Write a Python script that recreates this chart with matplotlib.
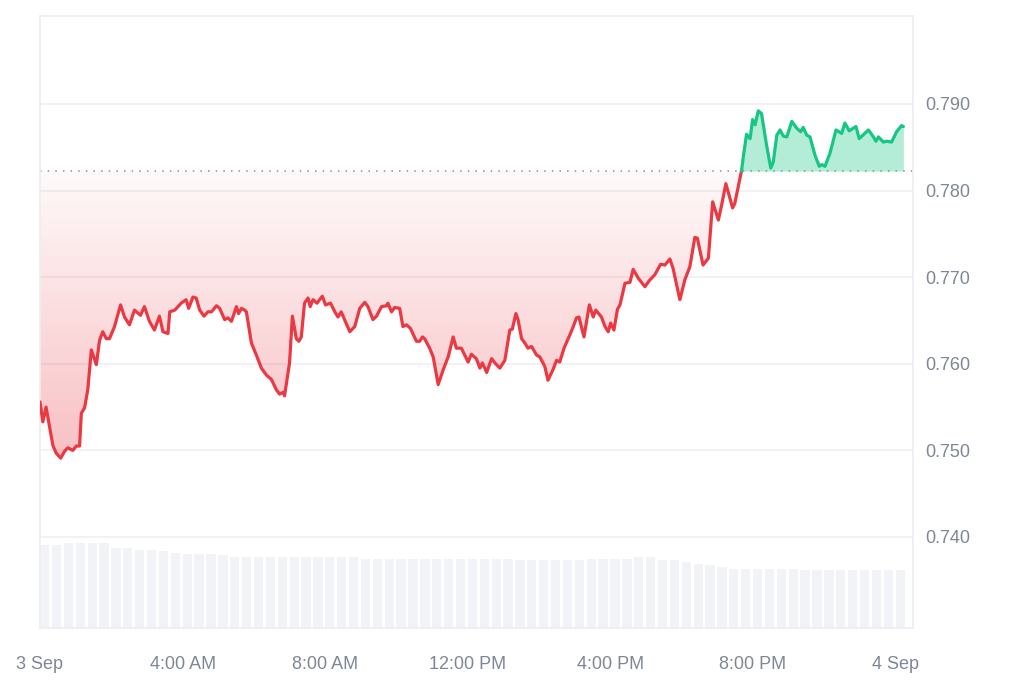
import numpy as np
import matplotlib
matplotlib.use('Agg')
import matplotlib.pyplot as plt
from matplotlib.colors import LinearSegmentedColormap
from matplotlib.path import Path

# price, hours after 3 Sep 00:00
hours = [0.0, 0.08, 0.17, 0.27, 0.36, 0.45, 0.58, 0.69, 0.78, 0.92,
         1.02, 1.11, 1.16, 1.25, 1.34, 1.44, 1.58, 1.67, 1.76, 1.86,
         1.95, 2.09, 2.26, 2.37, 2.51, 2.65, 2.82, 2.93, 3.07, 3.21,
         3.35, 3.45, 3.59, 3.64, 3.78, 3.96, 4.10, 4.17, 4.29, 4.38,
         4.48, 4.60, 4.71, 4.81, 4.95, 5.04, 5.18, 5.27, 5.37, 5.51,
         5.57, 5.65, 5.74, 5.79, 5.93, 6.07, 6.21, 6.35, 6.49, 6.63,
         6.72, 6.82, 6.86, 7.00, 7.08, 7.19, 7.26, 7.33, 7.42, 7.52,
         7.58, 7.66, 7.77, 7.92, 8.01, 8.15, 8.27, 8.36, 8.45, 8.69,
         8.83, 8.97, 9.11, 9.20, 9.34, 9.44, 9.58, 9.72, 9.76, 9.86,
         9.95, 10.09, 10.18, 10.28, 10.39, 10.56, 10.65, 10.73, 10.79, 10.93,
         11.03, 11.17, 11.31, 11.45, 11.59, 11.68, 11.82, 12.01, 12.10, 12.24,
         12.34, 12.41, 12.53, 12.67, 12.76, 12.90, 13.04, 13.18, 13.25, 13.35,
         13.41, 13.51, 13.60, 13.69, 13.79, 13.93, 14.02, 14.16, 14.25, 14.39,
         14.49, 14.58, 14.70, 14.86, 14.96, 15.05, 15.12, 15.26, 15.41, 15.52,
         15.59, 15.75, 15.85, 15.94, 16.01, 16.10, 16.20, 16.27, 16.41, 16.55,
         16.64, 16.78, 16.97, 17.09, 17.25, 17.41, 17.53, 17.67, 17.76, 17.95,
         18.09, 18.23, 18.37, 18.44, 18.60, 18.75, 18.87, 19.03, 19.12, 19.24,
         19.43, 19.49, 19.68, 19.73, 19.82, 19.92, 19.99, 20.06, 20.15, 20.24,
         20.38, 20.50, 20.57, 20.67, 20.76, 20.85, 20.95, 21.09, 21.23, 21.34,
         21.41, 21.51, 21.60, 21.74, 21.86, 21.93, 22.02, 22.16, 22.33, 22.49,
         22.58, 22.70, 22.89, 22.98, 23.24, 23.38, 23.45, 23.52, 23.66, 23.75,
         23.89, 24.03, 24.17, 24.22]

price = [0.7556, 0.7533, 0.7550, 0.7527, 0.7506, 0.7497, 0.7491, 0.7499, 0.7503, 0.7500,
         0.7505, 0.7505, 0.7543, 0.7549, 0.7570, 0.7616, 0.7599, 0.7627, 0.7637, 0.7629,
         0.7629, 0.7643, 0.7668, 0.7654, 0.7645, 0.7662, 0.7656, 0.7666, 0.7649, 0.7639,
         0.7655, 0.7637, 0.7635, 0.7660, 0.7662, 0.7670, 0.7674, 0.7664, 0.7677, 0.7676,
         0.7662, 0.7655, 0.7660, 0.7660, 0.7667, 0.7664, 0.7651, 0.7653, 0.7649, 0.7666,
         0.7658, 0.7664, 0.7662, 0.7660, 0.7624, 0.7610, 0.7595, 0.7587, 0.7582, 0.7570,
         0.7565, 0.7567, 0.7563, 0.7601, 0.7655, 0.7629, 0.7626, 0.7631, 0.7670, 0.7676,
         0.7666, 0.7674, 0.7670, 0.7678, 0.7668, 0.7670, 0.7660, 0.7654, 0.7660, 0.7637,
         0.7643, 0.7664, 0.7671, 0.7666, 0.7651, 0.7655, 0.7666, 0.7667, 0.7670, 0.7660,
         0.7665, 0.7664, 0.7643, 0.7645, 0.7641, 0.7626, 0.7626, 0.7631, 0.7629, 0.7618,
         0.7608, 0.7576, 0.7593, 0.7608, 0.7631, 0.7618, 0.7618, 0.7602, 0.7611, 0.7606,
         0.7595, 0.7601, 0.7590, 0.7606, 0.7601, 0.7595, 0.7604, 0.7639, 0.7640, 0.7658,
         0.7651, 0.7629, 0.7624, 0.7618, 0.7620, 0.7610, 0.7608, 0.7597, 0.7581, 0.7593,
         0.7604, 0.7602, 0.7618, 0.7633, 0.7643, 0.7653, 0.7654, 0.7631, 0.7668, 0.7654,
         0.7662, 0.7654, 0.7643, 0.7637, 0.7647, 0.7639, 0.7663, 0.7668, 0.7693, 0.7694,
         0.7709, 0.7699, 0.7689, 0.7696, 0.7703, 0.7715, 0.7714, 0.7721, 0.7710, 0.7674,
         0.7697, 0.7712, 0.7746, 0.7745, 0.7714, 0.7722, 0.7787, 0.7766, 0.7783, 0.7808,
         0.7780, 0.7785, 0.7823, 0.7839, 0.7865, 0.7860, 0.7882, 0.7876, 0.7892, 0.7889,
         0.7853, 0.7826, 0.7833, 0.7864, 0.7870, 0.7863, 0.7862, 0.7880, 0.7872, 0.7868,
         0.7873, 0.7864, 0.7862, 0.7841, 0.7828, 0.7830, 0.7828, 0.7843, 0.7870, 0.7866,
         0.7878, 0.7869, 0.7874, 0.7860, 0.7870, 0.7862, 0.7857, 0.7862, 0.7856, 0.7857,
         0.7856, 0.7868, 0.7875, 0.7874]

# opening price (dotted reference line)
base = 0.78225

# volume bars, one per 20 minutes (millions)
vol_hours = [i / 3 for i in range(73)]
volume = [418, 418, 427, 427, 427, 427, 402, 402, 392, 392,
          385, 375, 372, 372, 370, 368, 357, 357, 357, 357,
          357, 357, 357, 357, 357, 357, 357, 348, 348, 348,
          348, 348, 348, 348, 348, 348, 348, 348, 348, 348,
          340, 340, 340, 340, 340, 340, 348, 348, 348, 348,
          357, 357, 340, 340, 330, 322, 315, 305, 298, 298,
          298, 298, 298, 298, 290, 290, 290, 290, 290, 290,
          290, 290, 290]

x_ticks = [0, 4, 8, 12, 16, 20, 24]
x_labels = ['3 Sep', '4:00 AM', '8:00 AM', '12:00 PM', '4:00 PM', '8:00 PM', '4 Sep']
y_ticks = [0.740, 0.750, 0.760, 0.770, 0.780, 0.790]

RED = '#ea3943'
GREEN = '#16c784'
TXT = '#7f8796'
GRID = '#eef0f3'


def split_at_base(t, p, b):
    # add the crossing points so the red and green parts meet on the base line
    tt, pp = [t[0]], [p[0]]
    for i in range(1, len(t)):
        if (p[i - 1] - b) * (p[i] - b) < 0:
            f = (b - p[i - 1]) / (p[i] - p[i - 1])
            tt.append(t[i - 1] + f * (t[i] - t[i - 1]))
            pp.append(b)
        tt.append(t[i])
        pp.append(p[i])
    return np.array(tt), np.array(pp)


def main():
    plt.rcParams['font.family'] = ['Liberation Sans', 'DejaVu Sans']
    fig = plt.figure(figsize=(10.24, 6.83), dpi=100)
    ax = fig.add_axes([40 / 1024, 55 / 683, 873 / 1024, 612 / 683])

    t, p = split_at_base(np.array(hours), np.array(price), base)

    # volume in the lower part
    ax2 = ax.twinx()
    ax2.bar(vol_hours, volume, width=0.26, align='edge', color='#f1f3f6', linewidth=0)
    ax2.set_ylim(0, max(volume) * 612 / 85)
    ax2.set_yticks([])
    for s in ax2.spines.values():
        s.set_visible(False)
    ax.set_zorder(ax2.get_zorder() + 1)
    ax.patch.set_visible(False)

    # red gradient below the base line
    red_fill = ax.fill_between(t, p, base, where=p <= base, interpolate=True,
                               color='none', linewidth=0)
    clip = Path.make_compound_path(*red_fill.get_paths())
    cmap = LinearSegmentedColormap.from_list(
        'redfade', [(0.918, 0.224, 0.263, 0.32), (0.918, 0.224, 0.263, 0.03)])
    grad = np.linspace(0, 1, 256).reshape(-1, 1)
    img = ax.imshow(grad, extent=[0, 24.3, 0.749, base], origin='lower',
                    aspect='auto', cmap=cmap, zorder=1)
    img.set_clip_path(clip, transform=ax.transData)

    # green area above
    ax.fill_between(t, p, base, where=p >= base, interpolate=True,
                    color=GREEN, alpha=0.32, linewidth=0, zorder=1)

    ax.plot(t, np.where(p <= base, p, np.nan), color=RED, lw=2.3, zorder=3,
            solid_joinstyle='round', solid_capstyle='round')
    ax.plot(t, np.where(p >= base, p, np.nan), color=GREEN, lw=2.3, zorder=3,
            solid_joinstyle='round', solid_capstyle='round')
    ax.axhline(base, color='#8a909c', lw=1.1, ls=(0, (1, 4)), zorder=2)

    ax.set_xlim(0, 24.49)
    ax.set_ylim(0.72949, 0.80016)
    ax.set_xticks(x_ticks)
    ax.set_xticklabels(x_labels)
    ax.set_yticks(y_ticks)
    ax.set_yticklabels(['%.3f' % v for v in y_ticks])
    ax.yaxis.tick_right()
    ax.tick_params(axis='both', length=0, labelsize=13, labelcolor=TXT)
    ax.tick_params(axis='x', pad=20)
    ax.tick_params(axis='y', pad=9)
    ax.grid(axis='y', color=GRID, lw=1.2)
    ax.set_axisbelow(True)
    for s in ax.spines.values():
        s.set_color('#eceef1')
        s.set_linewidth(1.2)

    fig.savefig('out.png', dpi=100, facecolor='white')


if __name__ == "__main__":
    main()
